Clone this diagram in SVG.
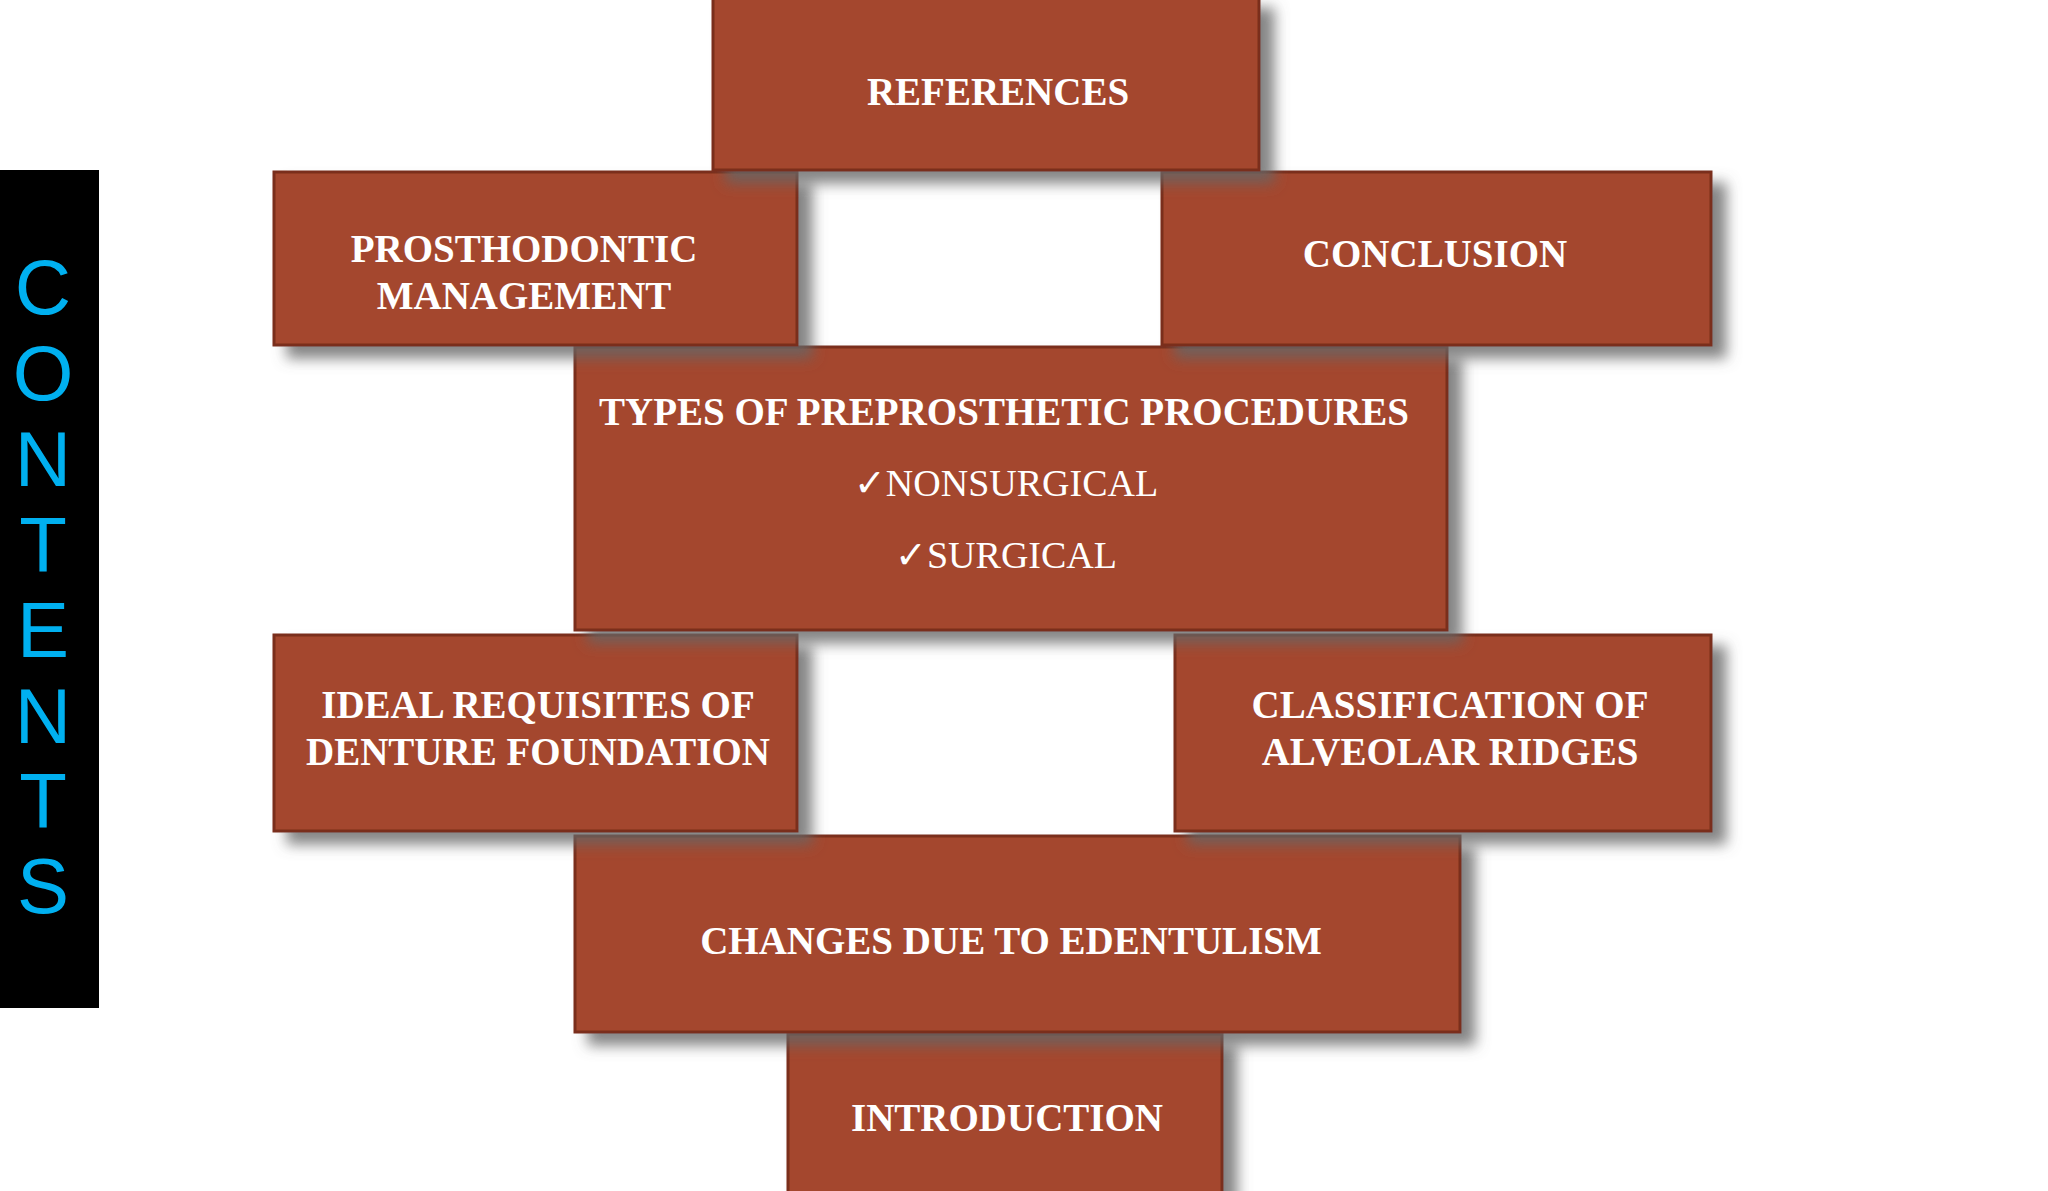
<svg xmlns="http://www.w3.org/2000/svg" width="2048" height="1191" viewBox="0 0 2048 1191">
<style>
.b{fill:#a4462d;stroke:#7a2f1c;stroke-width:3;filter:url(#sh)}
.t{font-family:"Liberation Serif",serif;font-weight:bold;font-size:39px;fill:#fff;text-anchor:middle;dominant-baseline:central}
.n{font-family:"Liberation Serif",serif;font-size:38px;fill:#fff;text-anchor:middle;dominant-baseline:central}
.c{font-family:"Liberation Sans",sans-serif;font-size:78px;fill:#00b0f0;text-anchor:middle;dominant-baseline:central}
</style>
<defs>
<filter id="sh" x="-10%" y="-10%" width="130%" height="140%">
<feDropShadow dx="14" dy="12" stdDeviation="7" flood-color="#666" flood-opacity="0.8"/>
</filter>
</defs>
<rect width="2048" height="1191" fill="#fff"/>
<g id="sidebar">
<rect x="0" y="170" width="99" height="838" fill="#000"/>
<text class="c" x="43" y="287">C</text><text class="c" x="43" y="373">O</text><text class="c" x="43" y="459">N</text><text class="c" x="43" y="545">T</text><text class="c" x="43" y="630">E</text><text class="c" x="43" y="716">N</text><text class="c" x="43" y="801">T</text><text class="c" x="43" y="886">S</text>
</g>
<g id="connectors"/>
<g id="introduction"><rect class="b" x="788" y="1034" width="434" height="160"/><text class="t" x="1007" y="1117">INTRODUCTION</text></g>
<g id="changes"><rect class="b" x="575" y="836" width="885" height="196"/><text class="t" x="1011" y="940">CHANGES DUE TO EDENTULISM</text></g>
<g id="ideal"><rect class="b" x="274" y="635" width="523" height="196"/><text class="t" x="538" y="704">IDEAL REQUISITES OF</text><text class="t" x="538" y="751">DENTURE FOUNDATION</text></g>
<g id="classification"><rect class="b" x="1175" y="635" width="536" height="196"/><text class="t" x="1450" y="704">CLASSIFICATION OF</text><text class="t" x="1450" y="751">ALVEOLAR RIDGES</text></g>
<g id="types"><rect class="b" x="575" y="347" width="872" height="283"/><text class="t" x="1004" y="411">TYPES OF PREPROSTHETIC PROCEDURES</text><text class="n" x="1006" y="483">✓NONSURGICAL</text><text class="n" x="1006" y="555">✓SURGICAL</text></g>
<g id="prosthodontic"><rect class="b" x="274" y="172" width="523" height="173"/><text class="t" x="524" y="248">PROSTHODONTIC</text><text class="t" x="524" y="295">MANAGEMENT</text></g>
<g id="conclusion"><rect class="b" x="1162" y="172" width="549" height="173"/><text class="t" x="1435" y="253">CONCLUSION</text></g>
<g id="references"><rect class="b" x="713" y="-3" width="546" height="173"/><text class="t" x="998" y="91">REFERENCES</text></g>
</svg>
